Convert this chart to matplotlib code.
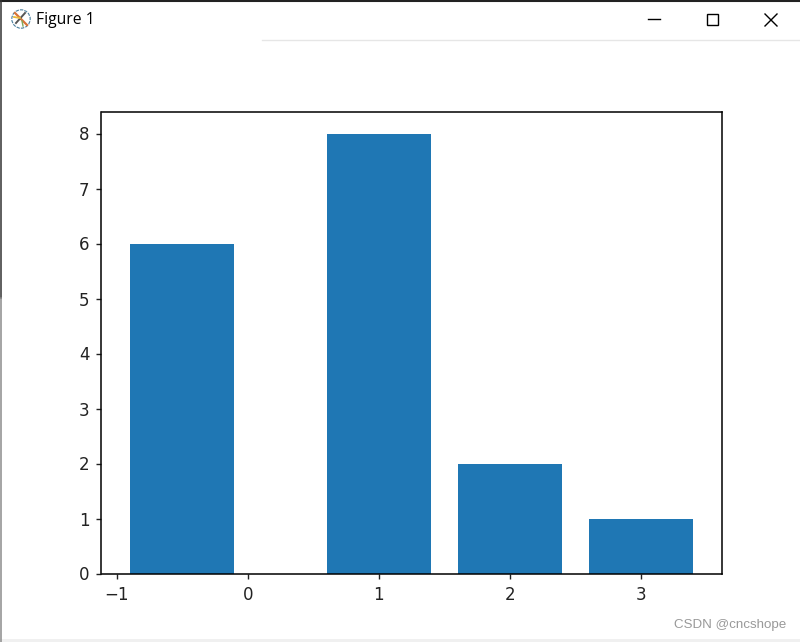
#!/usr/bin/env python3
"""Bar chart inside a screenshot of the matplotlib figure window."""
import matplotlib
matplotlib.use("Agg")
import matplotlib.pyplot as plt
from matplotlib.lines import Line2D
from matplotlib.patches import Circle, Rectangle

W, H = 800, 642

x_vals = [-0.5, 1, 2, 3]
heights = [6, 8, 2, 1]
x_ticks = [-1, 0, 1, 2, 3]
y_ticks = [0, 1, 2, 3, 4, 5, 6, 7, 8]
window_title = "Figure 1"
watermark = "CSDN @cncshope"


def px_line(fig, xs, ys, color="black", lw=1.0):
    # pixel coords, y measured from the top of the image
    fig.add_artist(Line2D([x / W for x in xs], [1 - y / H for y in ys],
                          transform=fig.transFigure, color=color, lw=lw))


fig = plt.figure(figsize=(W / 100, H / 100), dpi=100, facecolor="white")

ax = fig.add_axes([101.5 / W, 1 - 573.5 / H, (721.5 - 101.5) / W, (573.5 - 111.5) / H])
ax.bar(x_vals, heights, width=0.79, color="#1f77b4")
ax.set_xlim(-1.115, 3.615)
ax.set_ylim(0, 8.4)
ax.set_xticks(x_ticks)
ax.set_yticks(y_ticks)
ax.tick_params(labelsize=12, length=3.7, width=1, pad=5, colors="#222222")
for spine in ax.spines.values():
    spine.set_linewidth(1.1)

# window chrome
px_line(fig, [0, W], [0.5, 0.5], color="#222222", lw=1.5)
px_line(fig, [0.7, 0.7], [0, 298], color="#333333", lw=1.1)
px_line(fig, [0.7, 0.7], [298, 642], color="#8c8c8c", lw=1.1)
px_line(fig, [262, W], [39.5, 39.5], color="#e6e6e6", lw=1.0)
fig.add_artist(Rectangle((0, 0), 1, 3 / H, transform=fig.transFigure,
                         color="#f0f0f0", lw=0))

icon = fig.add_axes([11 / W, 1 - 29 / H, 20 / W, 20 / H])
icon.set_xlim(-1, 1)
icon.set_ylim(-1, 1)
icon.axis("off")
icon.add_patch(Circle((0, 0), 0.92, fill=False, ec="#4a7f9e", lw=0.8, ls=(0, (3, 1))))
icon.plot([-0.6, 0.6], [0.6, -0.6], color="#d9743a", lw=1.6)
icon.plot([-0.5, 0.4], [-0.4, 0.6], color="#555555", lw=1.4)
icon.plot([-0.7, -0.1], [0.2, 0.1], color="#e8b83a", lw=1.3)
icon.plot([0.1, 0.2], [-0.2, -0.7], color="#7fa85a", lw=1.0)

fig.text(36 / W, 1 - 20.5 / H, window_title, family="Open Sans", fontsize=11.3,
         color="black", va="center", ha="left")

# minimise, maximise, close buttons
px_line(fig, [648, 660], [19, 19], lw=1.0)
fig.add_artist(Rectangle((706.5 / W, 1 - 25 / H), 11 / W, 11 / H, transform=fig.transFigure,
                         fill=False, ec="black", lw=1.0))
px_line(fig, [765, 777], [14, 26], lw=1.0)
px_line(fig, [765, 777], [26, 14], lw=1.0)

fig.text(786 / W, 1 - 625 / H, watermark, family="Liberation Sans", fontsize=9.6,
         color="#999999", va="center", ha="right")

fig.savefig("out.png", dpi=100)
